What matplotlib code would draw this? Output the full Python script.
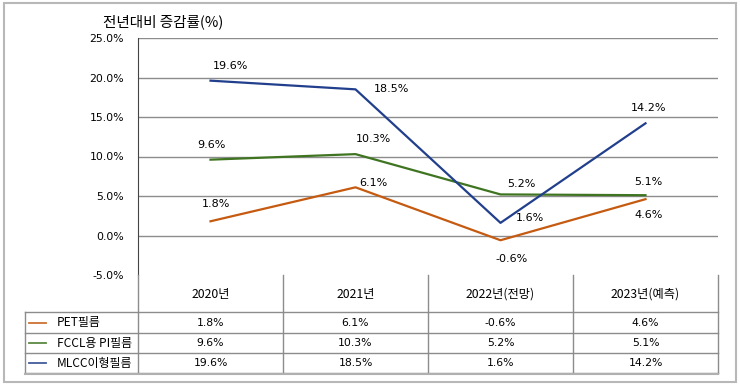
import matplotlib.pyplot as plt
from matplotlib.patches import Rectangle
from matplotlib.lines import Line2D

plt.rcParams['font.family'] = ['Noto Sans CJK KR', 'DejaVu Sans']

years = ['2020년', '2021년', '2022년(전망)', '2023년(예측)']
series_names = ['PET필름', 'FCCL용 PI필름', 'MLCC이형필름']
pet = [1.8, 6.1, -0.6, 4.6]
fccl = [9.6, 10.3, 5.2, 5.1]
mlcc = [19.6, 18.5, 1.6, 14.2]
colors = ['#C55A11', '#3F7420', '#213F8C']

# label offsets in pixels (dx, dy) per series per year
offsets = [
    [(6, 17), (18, 4), (11, -19), (3, -16)],
    [(1, 15), (18, 15), (21, 10), (3, 13)],
    [(20, 15), (36, 0), (29, 5), (3, 15)],
]

W, H = 740, 384
fig = plt.figure(figsize=(W / 100, H / 100), dpi=100)


def rect(x0, y0, x1, y1):
    return [x0 / W, 1 - y1 / H, (x1 - x0) / W, (y1 - y0) / H]


# outer frame
fig.patches.append(Rectangle((4 / W, 1 - 382 / H), 732 / W, 379 / H, transform=fig.transFigure,
                             fill=False, edgecolor='#b8b8b8', lw=1.5))

ax = fig.add_axes(rect(138, 38, 718, 275))
ax.set_xlim(-0.5, 3.5)
ax.set_ylim(-5, 25)
ax.set_yticks([-5, 0, 5, 10, 15, 20, 25])
ax.set_yticklabels([f'{v:.1f}%' for v in ax.get_yticks()], fontsize=7.8,
                   family='DejaVu Sans', color='#000000')
ax.set_xticks([])
ax.tick_params(axis='y', length=0, pad=10)
for s in ['top', 'right', 'bottom']:
    ax.spines[s].set_visible(False)
ax.spines['left'].set_color('#444444')
for v in [0, 5, 10, 15, 20, 25]:
    ax.axhline(v, color='#8c8c8c', lw=1, zorder=1)

xs = range(len(years))
for vals, c, offs in zip([pet, fccl, mlcc], colors, offsets):
    ax.plot(xs, vals, color=c, lw=1.6, zorder=3)
    for x, v, (dx, dy) in zip(xs, vals, offs):
        ax.annotate(f'{v:.1f}%', (x, v), xytext=(dx, dy), textcoords='offset pixels',
                    ha='center', va='center', fontsize=8, color='#000000',
                    family='DejaVu Sans')

fig.text(103 / W, 1 - 22 / H, '전년대비 증감률(%)', fontsize=10.5,
         ha='left', va='center', color='#000000')

# data table
tab = fig.add_axes(rect(25, 275, 718, 373))
tab.set_xlim(25, 718)
tab.set_ylim(373, 275)
tab.axis('off')
gcol = '#8c8c8c'
col_edges = [138, 283, 428, 573, 718]
row_edges = [275, 312, 333, 353, 373]
for xe in col_edges:
    tab.plot([xe, xe], [275, 373], color=gcol, lw=1, clip_on=False)
tab.plot([25, 25], [312, 373], color=gcol, lw=1, clip_on=False)
for ye in row_edges[1:]:
    tab.plot([25, 718], [ye, ye], color=gcol, lw=1, clip_on=False)
tab.plot([25, 718], [373.5, 373.5], color='#b0b0b0', lw=1.5, clip_on=False)

centers = [(col_edges[i] + col_edges[i + 1]) / 2 for i in range(4)]
row_c = [(row_edges[i] + row_edges[i + 1]) / 2 for i in range(4)]
for cx, yr in zip(centers, years):
    tab.text(cx, row_c[0] + 1, yr, ha='center', va='center', fontsize=8.8, color='#000000')
for r, (name, vals, c) in enumerate(zip(series_names, [pet, fccl, mlcc], colors)):
    yc = row_c[r + 1]
    tab.add_line(Line2D([29, 46], [yc, yc], color=c, lw=1.3, alpha=0.85))
    tab.text(57, yc, name, ha='left', va='center', fontsize=8.6, color='#000000')
    for cx, v in zip(centers, vals):
        tab.text(cx, yc, f'{v:.1f}%', ha='center', va='center', fontsize=7.8,
                 family='DejaVu Sans', color='#000000')

fig.savefig('out.png', dpi=100)
